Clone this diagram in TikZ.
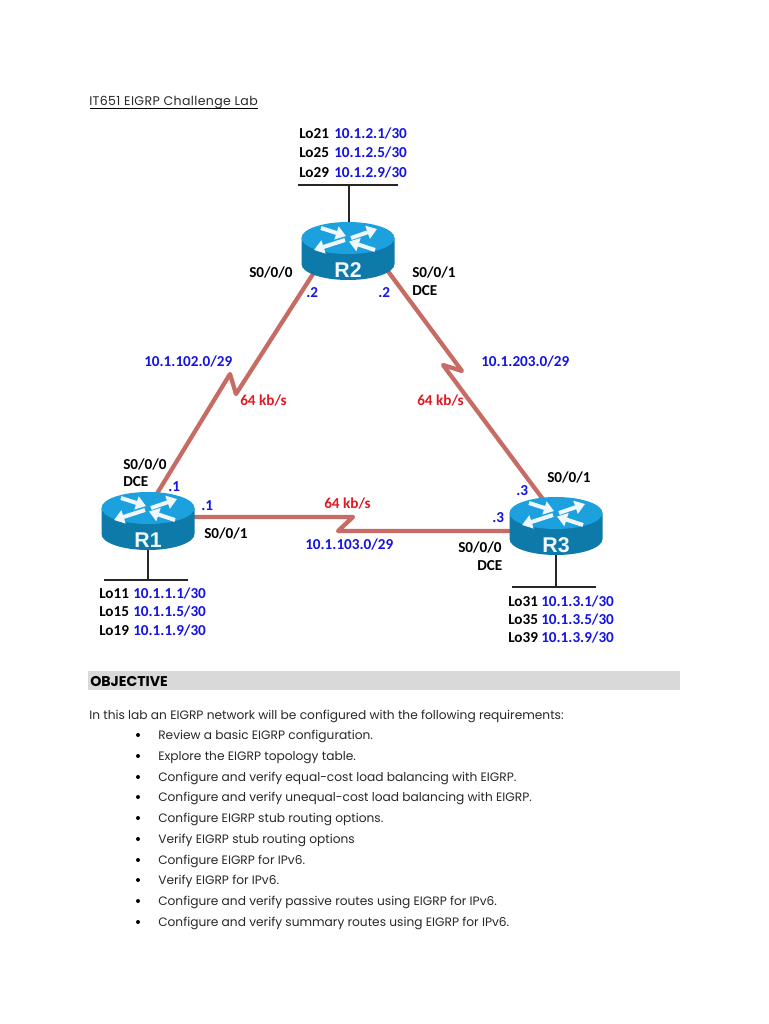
\documentclass[tikz,border=0pt]{standalone}
\usepackage{fontspec}
\usetikzlibrary{arrows.meta}
\setmainfont{Poppins}
\newfontfamily\lab{Carlito}
\newfontfamily\rfont{Liberation Sans}
\definecolor{linkc}{RGB}{198,108,100}
\definecolor{ipblue}{RGB}{20,20,225}
\definecolor{rate}{RGB}{225,25,35}
\definecolor{rtop}{RGB}{28,160,222}
\definecolor{rside}{RGB}{14,122,170}
\definecolor{band}{RGB}{217,217,217}
\definecolor{body}{RGB}{40,40,40}
\tikzset{
 x=0.75pt,y=-0.75pt,
 link/.style={draw=linkc,line width=3.2pt,line join=round},
 stem/.style={draw=black!85,line width=1.5pt},
 lbl/.style={font=\lab\bfseries\fontsize{11.4}{13}\selectfont,inner sep=0,anchor=west,text=black},
 ip/.style={lbl,text=ipblue},
 kbps/.style={lbl,text=rate},
 txt/.style={font=\fontsize{9.15}{11}\selectfont,inner sep=0,anchor=west,text=body,yshift=-1.4pt},
 rname/.style={font=\rfont\bfseries\fontsize{16}{17}\selectfont,text=white!93!rtop,inner sep=0},
 rnode/.style={draw=none,fill=none,minimum width=58.5pt,minimum height=28.5pt,inner sep=0},
 rarrow/.style={draw=white!92!rtop,line width=3pt,-{Triangle[length=7.5pt,width=10pt]}},
}
\newcommand{\routerart}[4]{% name,cx,cy(top ellipse),label
 \begin{scope}[shift={(#2,#3)}]
  \fill[rside] (-46.5,0) -- (-46.5,26) arc[start angle=180,end angle=0,x radius=46.5,y radius=16] -- (46.5,0) -- cycle;
  \fill[rtop] (0,0) ellipse[x radius=46.5,y radius=16];
  \draw[rarrow] (-27,-10) -- (-2,-2);
  \draw[rarrow] (3,0) -- (29,-9);
  \draw[rarrow] (-3,2) -- (-34,12);
  \draw[rarrow] (27,12) -- (1,3.5);
 \end{scope}
 \node[rname] (#1label) at (#2,#3+32) {#4};
}
\begin{document}
\begin{tikzpicture}
\useasboundingbox (0,0) rectangle (768,1024);
\fill[white] (0,0) rectangle (768,1024);

% title
\node[txt,font=\fontsize{9.4}{11}\selectfont\addfontfeature{LetterSpace=3}] (title) at (89,101) {IT651 EIGRP Challenge Lab};
\draw[black,line width=0.6pt] (90,108.5) -- (258,108.5);

% router nodes
\node[rnode] (R2) at (348,251) {};
\node[rnode] (R1) at (148,521) {};
\node[rnode] (R3) at (556,526) {};

% bus coordinates
\coordinate (b2) at (349,184.5); \coordinate (b2l) at (298,184.5); \coordinate (b2r) at (398,184.5);
\coordinate (b1) at (148,580); \coordinate (b1l) at (104,580); \coordinate (b1r) at (188,580);
\coordinate (b3) at (556,586.5); \coordinate (b3l) at (512,586.5); \coordinate (b3r) at (596,586.5);

% links (under routers)
\path[link] ([xshift=5pt]R2.south west) -- (236,394) -- (230,374) -- ([xshift=3pt]R1.north);
\path[link] (R2.south east) -- (462,371) -- (443,365) -- ([xshift=-5.6pt]R3.north);
\path[link] ([yshift=3pt]R1.east) -- (353,517) -- (338,531) -- ([yshift=-3.75pt]R3.west);

\draw[stem] (b2) -- (R2.north -| b2);
\draw[stem] (b1) -- (R1.south);
\draw[stem] (b3) -- (R3.south);
\draw[stem] (b2l) -- (b2r);
\draw[stem] (b1l) -- (b1r);
\draw[stem] (b3l) -- (b3r);

\routerart{R2}{348}{238}{R2}
\routerart{R1}{148}{508}{R1}
\routerart{R3}{556}{513}{R3}

% R2 labels
\node[lbl] (l21) at (299,134) {Lo21}; \node[ip] (i21) at (334,134) {10.1.2.1/30};
\node[lbl] (l25) at (299,152.5) {Lo25}; \node[ip] (i25) at (334,152.5) {10.1.2.5/30};
\node[lbl] (l29) at (299,173) {Lo29}; \node[ip] (i29) at (334,173) {10.1.2.9/30};
\node[lbl] (s200) at (249,273) {S0/0/0};
\node[lbl] (s201) at (412,273) {S0/0/1};
\node[lbl] (d2) at (412,291) {DCE};
\node[ip] (d22a) at (306,293) {.2};
\node[ip] (d22b) at (378,293) {.2};

% R1 labels
\node[lbl] (s100) at (123,465) {S0/0/0};
\node[lbl] (d1) at (123,482) {DCE};
\node[ip] (d11a) at (168,487) {.1};
\node[ip] (d11b) at (201,506) {.1};
\node[lbl] (s101) at (204,534) {S0/0/1};
\node[lbl] (l11) at (99,594) {Lo11}; \node[ip] (i11) at (133,594) {10.1.1.1/30};
\node[lbl] (l15) at (99,612) {Lo15}; \node[ip] (i15) at (133,612) {10.1.1.5/30};
\node[lbl] (l19) at (99,631) {Lo19}; \node[ip] (i19) at (133,631) {10.1.1.9/30};

% R3 labels
\node[lbl] (s301) at (547,478) {S0/0/1};
\node[ip] (d33a) at (516,491) {.3};
\node[ip] (d33b) at (492,518) {.3};
\node[lbl] (s300) at (458,548) {S0/0/0};
\node[lbl] (d3) at (477,566) {DCE};
\node[lbl] (l31) at (508,602) {Lo31}; \node[ip] (i31) at (541,602) {10.1.3.1/30};
\node[lbl] (l35) at (508,620) {Lo35}; \node[ip] (i35) at (541,620) {10.1.3.5/30};
\node[lbl] (l39) at (508,638) {Lo39}; \node[ip] (i39) at (541,638) {10.1.3.9/30};

% link labels
\node[ip] (n12) at (144,362) {10.1.102.0/29};
\node[ip] (n23) at (481,362) {10.1.203.0/29};
\node[ip] (n13) at (305,545) {10.1.103.0/29};
\node[kbps] (k12) at (240,401) {64 kb/s};
\node[kbps] (k23) at (417,401) {64 kb/s};
\node[kbps] (k13) at (324,504) {64 kb/s};

% objective
\fill[band] (88,671) rectangle (680,690);
\node[txt,font=\bfseries\fontsize{10.6}{12}\selectfont,text=black,yshift=0.4pt] (obj) at (90,680.5) {OBJECTIVE};
\node[txt] (intro) at (89,715) {In this lab an EIGRP network will be configured with the following requirements:};
\foreach \yy/\itemtext in {
 735/{Review a basic EIGRP configuration.},
 756/{Explore the EIGRP topology table.},
 777/{Configure and verify equal-cost load balancing with EIGRP.},
 797/{Configure and verify unequal-cost load balancing with EIGRP.},
 818/{Configure EIGRP stub routing options.},
 839/{Verify EIGRP stub routing options},
 860/{Configure EIGRP for IPv6.},
 880/{Verify EIGRP for IPv6.},
 901/{Configure and verify passive routes using EIGRP for IPv6.},
 922/{Configure and verify summary routes using EIGRP for IPv6.}}{
 \fill[black] (138,\yy) circle[radius=2];
 \node[txt] at (158,\yy) {\itemtext};
}
\end{tikzpicture}
\end{document}
